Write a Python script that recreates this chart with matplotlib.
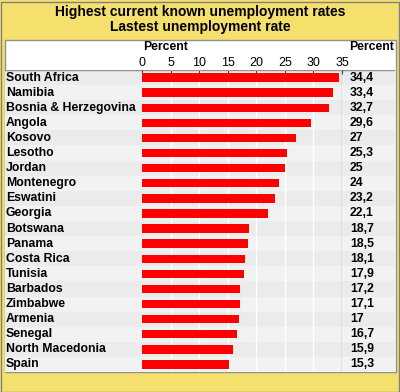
import matplotlib
matplotlib.use("Agg")
import matplotlib.pyplot as plt
from matplotlib.patches import Rectangle
from matplotlib.transforms import blended_transform_factory

plt.rcParams["font.family"] = ["Liberation Sans", "DejaVu Sans"]

# dados
countries = ["South Africa", "Namibia", "Bosnia & Herzegovina", "Angola", "Kosovo",
             "Lesotho", "Jordan", "Montenegro", "Eswatini", "Georgia", "Botswana",
             "Panama", "Costa Rica", "Tunisia", "Barbados", "Zimbabwe", "Armenia",
             "Senegal", "North Macedonia", "Spain"]
rates = [34.4, 33.4, 32.7, 29.6, 27, 25.3, 25, 24, 23.2, 22.1, 18.7,
         18.5, 18.1, 17.9, 17.2, 17.1, 17, 16.7, 15.9, 15.3]
ticks = [0, 5, 10, 15, 20, 25, 30, 35]
title_lines = ["Highest current known unemployment rates", "Lastest unemployment rate"]

W, H = 400, 392
fig = plt.figure(figsize=(W / 100, H / 100), dpi=100)
fig.patch.set_facecolor("#F5E06E")

# moldura externa e painel branco
fig.add_artist(Rectangle((0.5 / W, 0.5 / H), (W - 2) / W, (H - 2) / H, transform=fig.transFigure,
                         facecolor="none", edgecolor="#808080", lw=1, zorder=-2))
panel_top, panel_bot = 40, 372
fig.add_artist(Rectangle((4.5 / W, 1 - panel_bot / H), 391 / W, (panel_bot - panel_top) / H,
                         transform=fig.transFigure, facecolor="white", edgecolor="#909090",
                         lw=1, zorder=-1))

fig.text(0.5, 1 - 12 / H, title_lines[0], ha="center", va="center", fontsize=10, fontweight="bold")
fig.text(0.5, 1 - 27 / H, title_lines[1], ha="center", va="center", fontsize=10, fontweight="bold")

rows_top = 70
n = len(countries)
ax_h = (panel_bot - rows_top) / H
ax_b = 1 - panel_bot / H

# faixas alternadas das linhas
ax_bg = fig.add_axes([5 / W, ax_b, 390 / W, ax_h])
ax_bg.set_xlim(0, 1)
ax_bg.set_ylim(n - 0.5, -0.5)
for i in range(n):
    ax_bg.axhspan(i - 0.5, i + 0.5, color="#EBEBEB" if i % 2 == 0 else "#F2F2F2", lw=0)
ax_bg.axhline(-0.5, color="#909090", lw=1)
ax_bg.axis("off")

# barras
ax = fig.add_axes([142 / W, ax_b, 200 / W, ax_h])
ax.patch.set_alpha(0)
ax.set_xlim(0, 35)
ax.set_ylim(n - 0.5, -0.5)
for t in ticks[1:-1]:
    ax.axvline(t, color="white", lw=1, zorder=1)
ax.axvline(35, color="#A0A0A0", lw=1, zorder=1)
ax.barh(range(n), rates, height=0.55, color="#FF0000", zorder=2)
for s in ax.spines.values():
    s.set_visible(False)
ax.set_yticks([])
ax.set_xticks(ticks)
ax.xaxis.tick_top()
ax.tick_params(axis="x", direction="in", length=3, width=0.8, color="#404040",
               labelsize=9, pad=1)

tr = blended_transform_factory(fig.transFigure, ax.transData)
for i, (c, v) in enumerate(zip(countries, rates)):
    ax.text(6 / W, i, c, transform=tr, ha="left", va="center", fontsize=8.8, fontweight="bold")
    ax.text(350 / W, i, f"{v:g}".replace(".", ","), transform=tr,
            ha="left", va="center", fontsize=8.8, fontweight="bold")

fig.text(143 / W, 1 - 47 / H, "Percent", ha="left", va="center", fontsize=8.8, fontweight="bold")
fig.text(349 / W, 1 - 47 / H, "Percent", ha="left", va="center", fontsize=8.8, fontweight="bold")

fig.savefig("out.png", dpi=100)
